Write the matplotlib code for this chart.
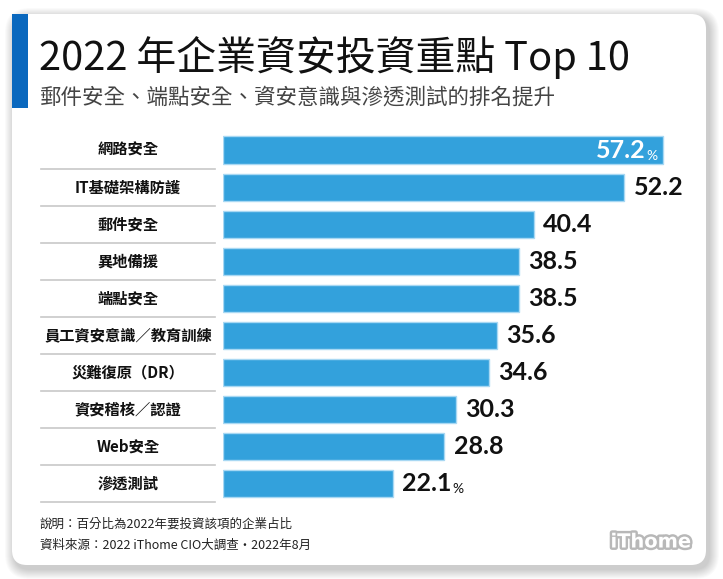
import matplotlib.pyplot as plt
import matplotlib.patheffects as pe
from matplotlib.patches import FancyBboxPatch, Rectangle
from matplotlib.transforms import blended_transform_factory

plt.rcParams['font.family'] = ['Noto Sans CJK TC', 'DejaVu Sans']

categories = ['網路安全', 'IT基礎架構防護', '郵件安全', '異地備援', '端點安全',
              '員工資安意識／教育訓練', '災難復原（DR）', '資安稽核／認證', 'Web安全', '滲透測試']
values = [57.2, 52.2, 40.4, 38.5, 38.5, 35.6, 34.6, 30.3, 28.8, 22.1]
value_labels = ['57.2', '52.2', '40.4', '38.5', '38.5', '35.6', '34.6', '30.3', '28.8', '22.1']

title = '2022 年企業資安投資重點 Top 10'
subtitle = '郵件安全、端點安全、資安意識與滲透測試的排名提升'
notes = ['說明：百分比為2022年要投資該項的企業占比',
         '資料來源：2022 iThome CIO大調查・2022年8月']

W, H = 723, 579
fig = plt.figure(figsize=(W / 100, H / 100), dpi=100)
fig.patch.set_facecolor('white')

# background / card
bg = fig.add_axes([0, 0, 1, 1])
bg.set_xlim(0, W)
bg.set_ylim(H, 0)
bg.axis('off')

cx0, cy0, cx1, cy1 = 12, 14, 706, 565
for k in range(10, 0, -1):
    bg.add_patch(FancyBboxPatch((cx0 - k + 3, cy0 - k + 4), cx1 - cx0 + 2 * k, cy1 - cy0 + 2 * k,
                                boxstyle='round,pad=0,rounding_size=%d' % (15 + k),
                                fc='#000000', ec='none', alpha=0.018, zorder=1))
bg.add_patch(FancyBboxPatch((cx0, cy0), cx1 - cx0, cy1 - cy0,
                            boxstyle='round,pad=0,rounding_size=15',
                            fc='white', ec='none', zorder=2))
bg.add_patch(Rectangle((cx0, cy0), 16, 94, fc='#0a68be', ec='none', zorder=3))

bg.text(39, 58, title, fontsize=28.7, color='#111111', va='center', ha='left', zorder=4)
bg.text(40, 98, subtitle, fontsize=15.5, color='#444444', va='center', ha='left', zorder=4)
bg.text(40, 524, notes[0], fontsize=9, color='#222222', va='center', ha='left', zorder=4)
bg.text(40, 545, notes[1], fontsize=9, color='#222222', va='center', ha='left', zorder=4)
bg.text(651, 542, 'iThome', fontsize=14, fontweight='bold', color='white', family='DejaVu Sans',
        va='center', ha='center', zorder=4,
        path_effects=[pe.withStroke(linewidth=3.5, foreground='#9a9a9a', alpha=0.7)])

# bars
px_per_unit = 7.69
row_h = 37.1
top = 150 - row_h / 2
x0 = 223
xmax = 60
ax = fig.add_axes([x0 / W, 1 - (top + row_h * 10) / H, xmax * px_per_unit / W, row_h * 10 / H])
ax.set_xlim(0, xmax)
ax.set_ylim(9.5, -0.5)
ax.axis('off')
ax.patch.set_alpha(0)
ax.set_zorder(5)

ys = list(range(len(values)))
ax.barh(ys, values, height=0.73, color='#33a1dc', edgecolor='#a8d8f3', linewidth=1)

num_font = dict(fontsize=18, fontweight='bold', family=['Lato', 'DejaVu Sans'])
pct_font = dict(fontsize=10, family=['Lato', 'DejaVu Sans'])
tr = blended_transform_factory(fig.transFigure, ax.transData)
for i, (c, v, lab) in enumerate(zip(categories, values, value_labels)):
    ax.text(128 / W, i, c, transform=tr, ha='center', va='center', fontsize=11,
            fontweight='bold', color='#111111')
    ax.plot([41 / W, 215 / W], [i + 0.5, i + 0.5], transform=tr, color='#c8c8c8',
            lw=1.2, clip_on=False)
    if i == 0:
        t = ax.text(v - 2.2, i, lab, ha='right', va='center', color='white', **num_font)
        ax.annotate('%', xy=(1, 0), xycoords=t, xytext=(0.5, 0), textcoords='offset points',
                    ha='left', va='bottom', color='white', **pct_font)
    else:
        t = ax.text(v + 1.2, i, lab, ha='left', va='center', color='#111111', **num_font)
        if i == len(values) - 1:
            ax.annotate('%', xy=(1, 0), xycoords=t, xytext=(0.5, 0), textcoords='offset points',
                        ha='left', va='bottom', color='#111111', **pct_font)

fig.savefig('out.png', dpi=100)
